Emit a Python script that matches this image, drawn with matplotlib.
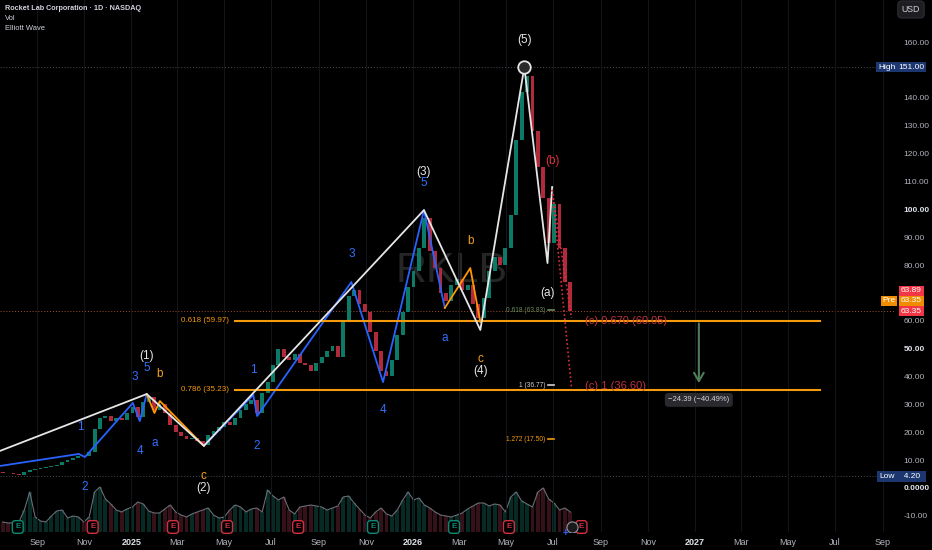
import matplotlib
matplotlib.use("Agg")
import matplotlib.pyplot as plt
import matplotlib.dates as mdates
import pandas as pd

plt.rcParams['font.family'] = ['Liberation Sans', 'DejaVu Sans']

# weekly closes (RKLB), first week starting 2024-07-15
first_week = pd.Timestamp("2024-07-15")
closes = [5.5, 5.2, 4.9, 4.6, 5.8, 6.5, 6.8, 7.2, 7.5, 7.8,
          8.2, 9.4, 10.2, 10.8, 11.5, 11.3, 13.0, 21.0, 25.0, 26.0,
          24.0, 25.0, 24.5, 27.0, 29.0, 25.5, 31.0, 32.5, 28.0, 30.0,
          27.0, 22.5, 20.0, 18.5, 17.5, 18.0, 17.0, 15.5, 19.0, 20.5,
          22.0, 23.5, 22.5, 25.0, 28.0, 30.0, 31.5, 27.0, 34.0, 38.0,
          44.0, 50.0, 47.0, 46.0, 48.0, 45.0, 44.0, 42.0, 45.0, 47.0,
          49.0, 51.0, 47.0, 60.0, 69.0, 71.0, 66.0, 63.0, 56.0, 49.0,
          42.0, 40.0, 46.0, 55.0, 63.0, 72.0, 78.0, 86.0, 97.0, 85.0,
          79.0, 70.0, 67.0, 73.0, 75.0, 71.0, 73.0, 66.0, 61.0, 68.0,
          78.0, 83.0, 80.0, 86.0, 98.0, 125.0, 142.0, 148.0, 128.0, 115.0,
          104.0, 88.0, 102.0, 86.0, 74.0, 63.35]
first_open = 5.6

# volume (millions)
volume = [10, 9, 9, 10, 22, 40, 15, 11, 10, 16,
          21, 22, 14, 16, 15, 10, 15, 40, 45, 33,
          28, 22, 20, 23, 25, 30, 28, 21, 19, 19,
          23, 27, 20, 17, 15, 18, 20, 22, 24, 17,
          14, 15, 22, 27, 25, 20, 23, 24, 20, 42,
          36, 32, 35, 22, 18, 25, 26, 27, 26, 25,
          22, 24, 26, 35, 36, 29, 23, 17, 14, 20,
          24, 18, 16, 22, 32, 40, 32, 34, 27, 24,
          20, 17, 16, 15, 17, 19, 23, 26, 29, 29,
          26, 28, 27, 20, 35, 40, 31, 28, 25, 40,
          44, 33, 29, 22, 24, 20]

# Elliott wave pivots
primary_dates = ["2024-07-15", "2025-01-21", "2025-04-05", "2026-01-15", "2026-03-29",
                 "2026-05-25", "2026-06-24", "2026-06-30"]
primary_prices = [13.3, 33.7, 15.1, 99.7, 56.7, 151.0, 80.7, 108.0]

wave1_dates = ["2024-07-15", "2024-10-25", "2024-11-02", "2025-01-03", "2025-01-12", "2025-01-21"]
wave1_prices = [7.9, 12.2, 11.1, 30.5, 24.0, 33.7]

wave2_dates = ["2025-01-21", "2025-01-31", "2025-02-07", "2025-04-05"]
wave2_prices = [33.7, 26.9, 31.2, 15.1]

wave3_dates = ["2025-04-05", "2025-06-08", "2025-06-13", "2025-10-13", "2025-11-23", "2026-01-15"]
wave3_prices = [15.1, 33.4, 25.8, 73.9, 38.0, 99.7]

wave4a_dates = ["2026-01-15", "2026-02-11"]
wave4a_prices = [99.7, 64.6]
wave4bc_dates = ["2026-02-11", "2026-03-16", "2026-03-29"]
wave4bc_prices = [64.6, 78.9, 59.6]

proj_dates = ["2026-06-30", "2026-07-25"]
proj_short = [107.0, 61.0]
proj_long = [107.0, 36.2]

# wave labels: text, date, price, colour key
wave_labels = [
    ("(1)", "2025-01-21", 47.4, "w"), ("5", "2025-01-21", 43.1, "b"),
    ("3", "2025-01-05", 39.8, "b"), ("b", "2025-02-07", 40.9, "o"),
    ("1", "2024-10-27", 21.9, "b"), ("4", "2025-01-12", 13.3, "b"),
    ("a", "2025-01-31", 16.1, "b"), ("2", "2024-11-02", 0.4, "b"),
    ("c", "2025-04-05", 4.3, "o"), ("(2)", "2025-04-05", 0.0, "w"),
    ("1", "2025-06-08", 42.3, "b"), ("2", "2025-06-13", 15.1, "b"),
    ("3", "2025-10-13", 84.0, "b"), ("4", "2025-11-23", 28.0, "b"),
    ("5", "2026-01-15", 109.4, "b"), ("(3)", "2026-01-15", 113.4, "w"),
    ("a", "2026-02-11", 53.8, "b"), ("b", "2026-03-16", 88.6, "o"),
    ("c", "2026-03-29", 46.3, "o"), ("(4)", "2026-03-29", 42.0, "w"),
    ("(5)", "2026-05-25", 160.7, "w"), ("(b)", "2026-06-30", 117.3, "r"),
    ("(a)", "2026-06-24", 70.0, "w"),
]

fib_levels = [59.97, 35.23]
fib_names = ["0.618 (59.97)", "0.786 (35.23)"]
target_levels = [60.05, 36.60]
target_names = ["(c) 0.670 (60.05)", "(c) 1 (36.60)"]
small_levels = [63.83, 36.77, 17.50]
small_names = ["0.618 (63.83)", "1 (36.77)", "1.272 (17.50)"]
move_label = "\u221224.39 (\u221240.49%)"

earnings_dates = ["2024-08-07", "2024-11-12", "2025-02-24", "2025-05-05", "2025-08-05",
                  "2025-11-10", "2026-02-23", "2026-05-05", "2026-08-07"]
earnings_beat = [True, False, False, False, False, True, True, False, False]

high_price, low_price = 151.00, 4.20
last_price = 63.35
price_ticks = [-10, 0, 10, 20, 30, 40, 50, 60, 80, 90, 100, 110, 120, 130, 140, 160]

UP, DOWN = '#0b7a66', '#b02a3c'
WHITE, BLUE, ORANGE, RED = '#e6e6e6', '#2962ff', '#ff9800', '#d9303e'
label_colors = {"w": WHITE, "b": '#3070ff', "o": '#f7a21b', "r": '#d9303e'}
GRAYTXT = '#b2b5be'

D = pd.to_datetime
week_dates = pd.date_range(first_week, periods=len(closes), freq="7D") + pd.Timedelta(hours=84)
opens = [first_open] + closes[:-1]

W, H = 932, 550
fig = plt.figure(figsize=(W / 100, H / 100), dpi=100, facecolor='black')
rect = [0, 18 / H, 895 / W, 1 - 18 / H]
xlim = (D("2024-07-15"), D("2027-09-17"))

# volume pane (behind price)
axv = fig.add_axes([rect[0], rect[1], rect[2], 152 / H])
axv.set_facecolor('none')
axv.set_xlim(xlim)
axv.set_ylim(0, 152)
axv.axis('off')
vcol = ['#072a25' if c >= o else '#35111a' for o, c in zip(opens, closes)]
axv.bar(week_dates, volume, width=5, color=vcol)
axv.plot(week_dates, volume, color='#6a6d75', lw=0.8)

ax = fig.add_axes(rect)
ax.set_facecolor('none')
ax.set_xlim(xlim)
ax.set_ylim(-15.8, 175.1)
for s in ax.spines.values():
    s.set_visible(False)

# candles
body = [c - o for o, c in zip(opens, closes)]
ccol = [UP if c >= o else DOWN for o, c in zip(opens, closes)]
ax.bar(week_dates, body, bottom=opens, width=5, color=ccol, zorder=2)

# reference lines
ax.axhline(high_price, color='#4a4d55', lw=0.7, ls=(0, (1, 2)), zorder=1)
ax.axhline(low_price, color='#4a4d55', lw=0.7, ls=(0, (1, 2)), zorder=1)
ax.axhline(last_price, color='#a0522d', lw=0.7, ls=(0, (1, 2)), zorder=1)

# watermark
ax.text(0.505, 0.49, "RKLB", transform=ax.transAxes, fontsize=31, color='#262626',
        ha='center', va='center', zorder=0)

# waves
ax.plot(D(primary_dates), primary_prices, color=WHITE, lw=1.3, zorder=4)
ax.plot(D(wave1_dates), wave1_prices, color=BLUE, lw=1.3, zorder=3)
ax.plot(D(wave3_dates), wave3_prices, color=BLUE, lw=1.3, zorder=3)
ax.plot(D(wave4a_dates), wave4a_prices, color=BLUE, lw=1.3, zorder=3)
ax.plot(D(wave2_dates), wave2_prices, color=ORANGE, lw=1.3, zorder=3)
ax.plot(D(wave4bc_dates), wave4bc_prices, color=ORANGE, lw=1.3, zorder=3)
ax.plot(D(proj_dates), proj_short, color=RED, lw=1.2, ls=(0, (1, 1.5)), zorder=4)
ax.plot(D(proj_dates), proj_long, color=RED, lw=1.2, ls=(0, (1, 1.5)), zorder=4)
ax.plot(D(primary_dates[5]), primary_prices[5], 'o', ms=9, mfc='#2a2a2a', mec=WHITE, mew=1.3, zorder=5)

for txt, d, p, c in wave_labels:
    ax.text(D(d), p, txt, color=label_colors[c], fontsize=8.5, ha='center', va='center', zorder=6)

# fib retracements and targets
line_start, line_end = D("2025-05-15"), D("2027-06-12")
for lvl, name in zip(fib_levels, fib_names):
    ax.plot([line_start, line_end], [lvl, lvl], color='#f59a0c', lw=1.5, zorder=3)
    ax.text(D("2025-05-08"), lvl, name, color='#f59a0c', fontsize=5.8, ha='right', va='center')
for lvl, name in zip(target_levels, target_names):
    ax.text(D("2026-08-11"), lvl, name, color='#c0333e', fontsize=8, ha='left', va='center', zorder=6)
small_colors = ['#6b8a5e', '#d0d0d0', '#f59a0c']
for lvl, name, c in zip(small_levels, small_names, small_colors):
    ax.text(D("2026-06-21"), lvl, name, color=c, fontsize=4.8, ha='right', va='center')
    ax.plot([D("2026-06-25"), D("2026-07-02")], [lvl, lvl], color=c, lw=1.2)

# measure arrow
arrow_date = D("2027-01-06")
ax.annotate('', xy=(arrow_date, target_levels[1]), xytext=(arrow_date, target_levels[0]),
            arrowprops=dict(arrowstyle='->,head_length=0.6,head_width=0.35', color='#4e7d5b', lw=1.5), zorder=5)
ax.text(arrow_date, 31.6, move_label, color='#d1d4dc', fontsize=5.5, ha='center', va='center',
        bbox=dict(boxstyle='round,pad=0.45', fc='#2a2a2e', ec='none'))

# earnings markers
for d, beat in zip(earnings_dates, earnings_beat):
    c = '#0c8a74' if beat else '#d03040'
    ax.text(D(d), -14.0, "E", color=c, fontsize=5.8, ha='center', va='center', fontweight='bold',
            bbox=dict(boxstyle='round,pad=0.35', fc='black', ec=c, lw=1.0), zorder=6)
ax.plot(D("2026-07-26"), -14.0, 'o', ms=8, mfc='#1a1a1a', mec='#8a8d95', mew=0.9, zorder=6)
ax.text(D("2026-07-17"), -16.0, "+", color=BLUE, fontsize=7, ha='center', va='center', fontweight='bold', zorder=7)

# axes / ticks
ax.grid(axis='x', color='#12151a', lw=0.7)
ax.xaxis.set_major_locator(mdates.MonthLocator(bymonth=[1, 3, 5, 7, 9, 11]))


def fmt_date(x, pos=None):
    d = mdates.num2date(x)
    return str(d.year) if d.month == 1 else d.strftime('%b')


ax.xaxis.set_major_formatter(plt.FuncFormatter(fmt_date))
ax.tick_params(axis='x', length=0, pad=4, labelsize=6.5, labelcolor=GRAYTXT)
for lab in ax.get_xticklabels():
    if lab.get_text().isdigit():
        lab.set_fontweight('bold')
        lab.set_color('#e0e3eb')

ax.yaxis.tick_right()
ax.set_yticks(price_ticks)
ax.set_yticklabels(["0.0000" if v == 0 else "%.2f" % v for v in price_ticks])
ax.tick_params(axis='y', length=0, pad=6, labelsize=6, labelcolor=GRAYTXT)
for v, lab in zip(price_ticks, ax.get_yticklabels()):
    if v in (0, 50, 100):
        lab.set_fontweight('bold')
        lab.set_color('#e0e3eb')


def price_box(text, px, price, fc, tc='white'):
    ax.annotate(text, xy=(px, price), xycoords=('figure pixels', 'data'), ha='center', va='center',
                fontsize=6, color=tc, annotation_clip=False, zorder=8,
                bbox=dict(boxstyle='square,pad=0.22', fc=fc, ec='none'))


price_box("High", 887, high_price, '#1c3770')
price_box("151.00", 911.5, high_price, '#1c3770')
price_box("Low", 887, low_price, '#1c3770')
price_box("  4.20  ", 911.5, low_price, '#1c3770')
price_box("63.89", 911.5, 70.7, '#f23645')
price_box("Pre", 889, 67.1, '#f08c00')
price_box("63.35", 911.5, 67.1, '#f08c00')
price_box("63.35", 911.5, 63.5, '#f23645')

fig.text(911 / W, 1 - 9.5 / H, "USD", color='#d1d4dc', fontsize=6.3, ha='center', va='center',
         bbox=dict(boxstyle='round,pad=0.45', fc='#1e1e22', ec='#2a2a2e'))
fig.text(5 / W, 1 - 9 / H, "Rocket Lab Corporation \u00b7 1D \u00b7 NASDAQ", color='#d1d4dc',
         fontsize=5.2, ha='left', va='center', fontweight='bold')
fig.text(5 / W, 1 - 19 / H, "Vol", color='#d1d4dc', fontsize=5.4, ha='left', va='center')
fig.text(5 / W, 1 - 29 / H, "Elliott Wave", color='#d1d4dc', fontsize=5.4, ha='left', va='center')

fig.savefig("out.png", dpi=100, facecolor='black')
